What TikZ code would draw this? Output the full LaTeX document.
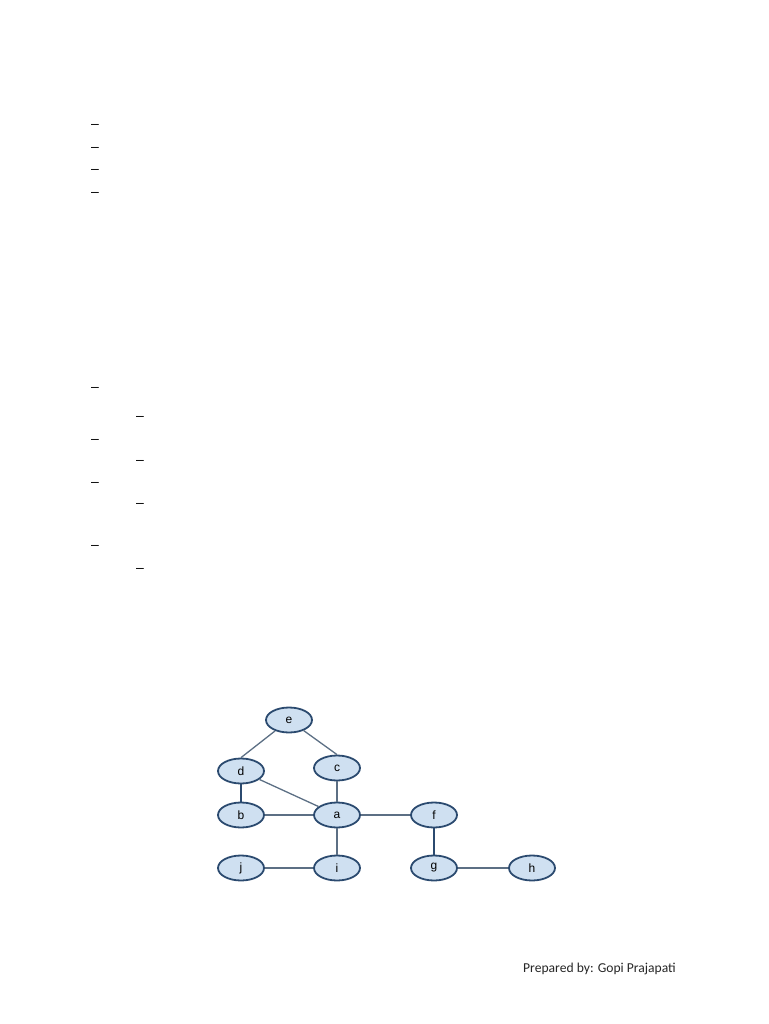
\documentclass[tikz,border=0pt]{standalone}
\usepackage{fontspec}
\setmainfont{Carlito}
\newfontfamily\arialf{Liberation Sans}
\usetikzlibrary{shapes.geometric}
\definecolor{nodefill}{HTML}{CFE0F1}
\definecolor{nodeedge}{HTML}{2B4A6F}
\definecolor{edgecol}{HTML}{5C6F84}
\tikzset{
  vtx/.style={ellipse, draw=nodeedge, fill=nodefill, line width=1.8pt,
    minimum width=46pt, minimum height=25pt, inner sep=0pt,
    font=\arialf\fontsize{12}{14}\selectfont},
  edge/.style={draw=edgecol, line width=1.3pt},
  thick edge/.style={draw=nodeedge, line width=2pt},
  dashmark/.style={inner sep=0pt, font=\arialf\fontsize{14}{16}\selectfont},
  footer/.style={inner sep=0pt, anchor=west, font=\fontsize{13.6}{16}\selectfont, text=black!85}
}
\begin{document}
\begin{tikzpicture}[x=1pt,y=-1pt]
\useasboundingbox (0,0) rectangle (768,1024);
% dashes
\node[dashmark] (m1) at (95,126) {–};
\node[dashmark] (m2) at (95,149) {–};
\node[dashmark] (m3) at (95,171) {–};
\node[dashmark] (m4) at (95,194) {–};
\node[dashmark] (m5) at (95,389) {–};
\node[dashmark] (m6) at (140,418) {–};
\node[dashmark] (m7) at (95,441) {–};
\node[dashmark] (m8) at (140,462) {–};
\node[dashmark] (m9) at (95,484) {–};
\node[dashmark] (m10) at (140,505) {–};
\node[dashmark] (m11) at (95,547) {–};
\node[dashmark] (m12) at (140,570) {–};
% graph
\node[vtx] (e) at (289,720) {e};
\node[vtx] (d) at (241,771) {d};
\node[vtx] (c) at (337,768) {c};
\node[vtx] (b) at (241,815) {b};
\node[vtx] (a) at (337,815) {a};
\node[vtx] (f) at (434,815) {f};
\node[vtx] (j) at (241,868) {j};
\node[vtx] (i) at (337,868) {i};
\node[vtx] (g) at (434,868) {g};
\node[vtx] (h) at (532,868) {h};
\draw[edge] (e) -- (d.north);
\draw[edge] (e) -- (c.north);
\draw[thick edge] (d) -- (b);
\draw[edge] (d) -- (a);
\draw[edge] (c) -- (a);
\draw[edge] (b) -- (a);
\draw[edge] (a) -- (f);
\draw[edge] (a) -- (i);
\draw[thick edge] (f) -- (g);
\draw[edge] (j) -- (i);
\draw[edge] (g) -- (h);
\node[footer] (foot) at (523,969) {Prepared by: Gopi Prajapati};
\end{tikzpicture}
\end{document}
